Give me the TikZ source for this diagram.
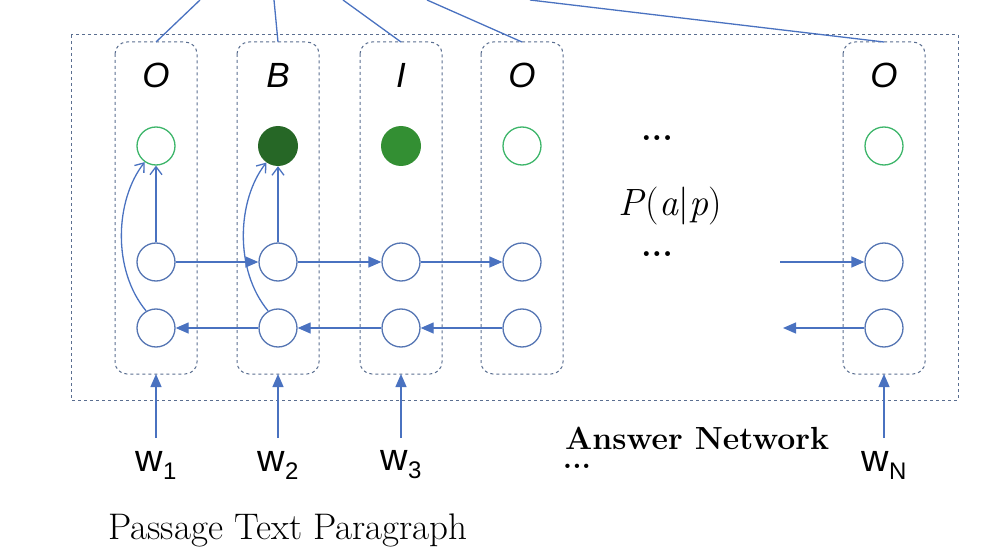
\documentclass[tikz,border=0pt]{standalone}
\usepackage{fontspec}
\newfontfamily\sansf{Liberation Sans}
\usetikzlibrary{arrows.meta}
\definecolor{ln}{HTML}{4A72C0}
\definecolor{dsh}{HTML}{5A6E90}
\definecolor{gr}{HTML}{3DB56A}
\begin{document}
\begin{tikzpicture}[x=1pt,y=-1pt,
  bl/.style={draw=ln, line width=1.3pt},
  cell/.style={circle, draw=ln!80!gray, line width=1.3pt, minimum size=38pt, inner sep=0},
  gcell/.style={circle, draw=gr, line width=1.3pt, minimum size=38pt, inner sep=0},
  col/.style={draw=dsh, dashed, line width=1pt, rounded corners=12pt},
  harr/.style={bl, -{Triangle[length=13pt,width=11pt]}},
  varr/.style={bl, -{Straight Barb[length=8pt,width=12pt]}},
  lab/.style={font=\sansf\itshape\fontsize{35}{40}\selectfont},
  wl/.style={font=\sansf\fontsize{38}{42}\selectfont}]
\useasboundingbox (0,0) rectangle (994,559);
\draw[dashed, draw=dsh, line width=1pt] (71,35) rectangle (958,400);
\foreach \i/\x/\l in {1/156/O,2/278/B,3/401/I,4/522/O,5/884/O}{
  \draw[col] (\x-41,42) rectangle (\x+41,374);
  \node[lab] (l\i) at (\x,75) {\l};
  \node[cell] (m\i) at (\x,262) {};
  \node[cell] (b\i) at (\x,328) {};
  \coordinate (t\i) at (\x,42);
  \coordinate (bot\i) at (\x,374);
}
\node[gcell] (o1) at (156,146) {};
\node[circle, fill=green!30!black!85, minimum size=40pt, inner sep=0] (o2) at (278,146) {};
\node[circle, fill=green!45!black!80, minimum size=40pt, inner sep=0] (o3) at (401,146) {};
\node[gcell] (o4) at (522,146) {};
\node[gcell] (o5) at (884,146) {};
% top lines
\coordinate (u1) at (200,0); \coordinate (u2) at (274,0); \coordinate (u3) at (343,0);
\coordinate (u4) at (427,0); \coordinate (u5) at (530,0);
\foreach \i in {1,...,5}{\draw[bl] (t\i) -- (u\i);}
% horizontal
\draw[harr] (m1) -- (m2); \draw[harr] (m2) -- (m3); \draw[harr] (m3) -- (m4);
\draw[harr] (b4) -- (b3); \draw[harr] (b3) -- (b2); \draw[harr] (b2) -- (b1);
\coordinate (hm) at (780,262); \coordinate (hb) at (783,328);
\draw[harr] (hm) -- (m5); \draw[harr] (b5) -- (hb);
% vertical
\draw[varr] (m1) -- (o1); \draw[varr] (m2) -- (o2);
\draw[varr] (b1.120) .. controls (112,270) and (115,200) .. (o1.235);
\draw[varr] (b2.120) .. controls (234,270) and (237,200) .. (o2.235);
% inputs
\foreach \i/\x/\s in {1/156/1,2/278/2,3/401/3,5/884/N}{
  \node[wl] (w\i) at (\x,465) {w\raisebox{-8pt}{\fontsize{24}{26}\selectfont\s}};
  \draw[harr] (\x,438) -- (bot\i);
}
\node[font=\bfseries\fontsize{34}{38}\selectfont] (d1) at (657,138) {...};
\node[font=\bfseries\fontsize{34}{38}\selectfont] (d2) at (657,254) {...};
\node[font=\bfseries\fontsize{30}{34}\selectfont] (d3) at (577,466) {...};
\node[font=\fontsize{38}{42}\selectfont] (p) at (670,206) {\textit{P}(\textit{a}|\textit{p})};
\node[font=\bfseries\fontsize{32}{36}\selectfont, anchor=west, inner sep=0] (an) at (565,438) {Answer Network};
\node[font=\fontsize{37}{40}\selectfont] (pt) at (288,530) {Passage Text Paragraph};
\end{tikzpicture}
\end{document}
